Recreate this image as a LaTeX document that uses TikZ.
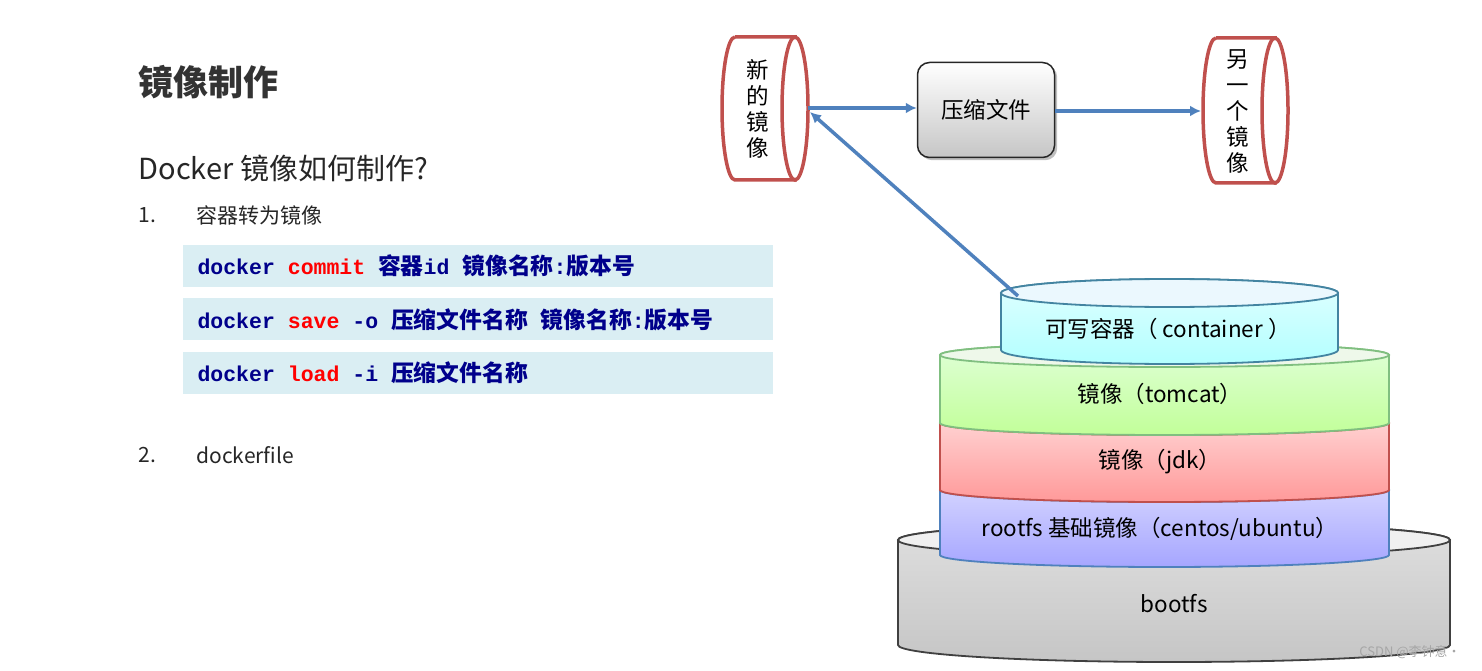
\documentclass[tikz,border=0pt]{standalone}
\usepackage{fontspec}
\setmainfont{Noto Sans CJK SC}
\newfontfamily\cjk{Noto Sans CJK SC}[Scale=1.06]
\newfontfamily\mono{Liberation Mono}
\usetikzlibrary{shadows,arrows.meta}
\definecolor{arr}{HTML}{4F81BD}
\definecolor{cred}{HTML}{C0504D}
\definecolor{codebg}{HTML}{DAEEF3}
\definecolor{kw}{HTML}{00008B}
\tikzset{
  ar/.style={draw=arr,line width=3.5pt,-{Latex[length=11pt,width=11pt]}},
  codebox/.style={fill=codebg,draw=none},
  code/.style={anchor=west,font=\fontsize{21.5}{21.5}\selectfont\bfseries},
  txt/.style={anchor=west,font=\fontsize{21}{21}\selectfont,text=black!85},
  lbl/.style={font=\fontsize{22.5}{22.5}\selectfont},
}
\newcommand{\cyl}[9]{% x1 x2 ytop ybot ry fill-top fill-bottom draw topface
  \shade[top color=#6,bottom color=#7,draw=#8,line width=1.8pt]
    (#1,#3) -- (#1,#4) arc[start angle=180,end angle=0,x radius={(#2-#1)/2},y radius=#5] -- (#2,#3)
    arc[start angle=0,end angle=-180,x radius={(#2-#1)/2},y radius=#5] -- cycle;
  \fill[#9,draw=#8,line width=1.8pt] ({(#1+#2)/2},#3) ellipse[x radius={(#2-#1)/2},y radius=#5];
}
\begin{document}
\begin{tikzpicture}[x=1pt,y=-1pt]
\useasboundingbox (0,0) rectangle (1482,671);
% left text
\node[anchor=west,font=\fontsize{35}{35}\selectfont\bfseries,text=black!80] (title) at (135,82) {镜像制作};
\node[anchor=west,font=\fontsize{29}{29}\selectfont,text=black!85] (q) at (135,168) {Docker 镜像如何制作?};
\node[txt] (n1) at (135,215) {1.};
\node[txt] (t1) at (193,215) {容器转为镜像};
\fill[codebox] (183,245) rectangle (773,287);
\fill[codebox] (183,298) rectangle (773,340);
\fill[codebox] (183,352) rectangle (773,394);
\node[code] (c1) at (194,266) {\mono\textcolor{kw}{docker} \textcolor{red}{commit} \textcolor{kw}{\cjk 容器}\textcolor{kw}{id} \textcolor{kw}{\cjk 镜像名称}\textcolor{kw}{:}\textcolor{kw}{\cjk 版本号}};
\node[code] (c2) at (194,320) {\mono\textcolor{kw}{docker} \textcolor{red}{save} \textcolor{kw}{-o} \textcolor{kw}{\cjk 压缩文件名称} \textcolor{kw}{\cjk 镜像名称}\textcolor{kw}{:}\textcolor{kw}{\cjk 版本号}};
\node[code] (c3) at (194,373) {\mono\textcolor{kw}{docker} \textcolor{red}{load} \textcolor{kw}{-i} \textcolor{kw}{\cjk 压缩文件名称}};
\node[txt] (n2) at (135,455) {2.};
\node[txt] (t2) at (193,455) {dockerfile};
% stack
\cyl{898}{1450}{540}{645}{17}{gray!25}{gray!45}{black!75}{gray!12}
\cyl{940}{1389}{490}{555}{12}{blue!15}{blue!35}{arr}{blue!8}
\cyl{940}{1389}{423}{490}{12}{red!15}{red!40}{cred}{red!8}
\cyl{940}{1389}{355}{423}{12}{yellow!20!green!15}{yellow!40!green!40}{green!50!black!50}{yellow!15!green!8}
\cyl{1001}{1338}{293}{350}{14}{cyan!12}{cyan!30}{cyan!60!black}{cyan!8}
\node[lbl] (boot) at (1174,604) {bootfs};
\node[lbl] (root) at (1160,529) {rootfs 基础镜像（centos/ubuntu）};
\node[lbl] (jdk) at (1160,462) {镜像（jdk）};
\node[lbl] (tom) at (1160,394) {镜像（tomcat）};
\node[lbl] (cont) at (1168,329) {可写容器（ container ）};
% top row
\node[draw=black!85,line width=1.5pt,rounded corners=12pt,top color=white,bottom color=gray!45,minimum width=137pt,minimum height=95pt,font=\fontsize{22.5}{22.5}\selectfont,drop shadow] (zip) at (986,110) {压缩文件};
\foreach \n/\a/\b/\t/\bt in {new/722/808/37/180, other/1203/1288/38/183}{
  \draw[cred,line width=3.5pt,fill=white] ({\a+13},\t) -- ({\b-13},\t) -- ({\b-13},\bt) -- ({\a+13},\bt) arc[start angle=90,end angle=270,x radius=13,y radius={(\bt-\t)/2}];
  \draw[cred,line width=3.5pt,fill=white] ({\b-13},{(\t+\bt)/2}) ellipse[x radius=13,y radius={(\bt-\t)/2}];
}
\node[font=\fontsize{22.5}{26}\selectfont,align=center] (newimg) at (758,109) {新\\的\\镜\\像};
\node[font=\fontsize{22.5}{26}\selectfont,align=center] (othimg) at (1238,111) {另\\一\\个\\镜\\像};
\coordinate (newR) at (808,108);
\coordinate (othL) at (1201,111);
\coordinate (ctop) at (1018,296);
\coordinate (newR2) at (810,112);
\draw[ar] (newR) -- (zip.west|-newR);
\draw[ar] (zip.east|-othL) -- (othL);
\draw[ar] (ctop) -- (newR2);
\node[font=\fontsize{13}{13}\selectfont,text=gray!70] (wm) at (1410,652) {CSDN @李钟意·};
\end{tikzpicture}
\end{document}
